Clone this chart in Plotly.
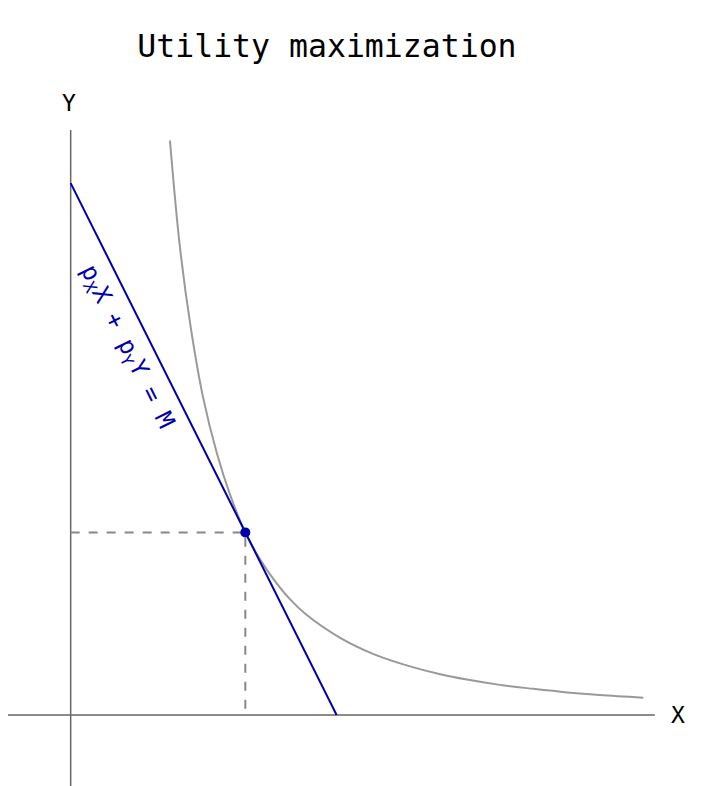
import plotly.graph_objects as go

# budget line px*X + py*Y = M  (px=2, py=1, M=6)
budget_x = [0, 3]
budget_y = [6, 0]

# optimum bundle
opt_x = [1.97]
opt_y = [2.06]

# indifference curve
curve_x = [1.12, 1.23, 1.35, 1.49, 1.65, 1.80, 1.97, 2.14, 2.29, 2.47, 2.66, 3.04, 3.41,
           3.79, 4.17, 4.47, 4.84, 5.22, 5.60, 5.97, 6.46]
curve_y = [6.48, 5.30, 4.40, 3.60, 2.95, 2.48, 2.06, 1.75, 1.53, 1.31, 1.13, 0.87, 0.69,
           0.56, 0.46, 0.40, 0.34, 0.295, 0.255, 0.225, 0.195]

# axis lines
xaxis_x = [-0.80, 6.59]
yaxis_y = [-0.90, 6.60]

mono = "DejaVu Sans Mono"
fig = go.Figure()

# axes
fig.add_trace(go.Scatter(x=xaxis_x, y=[0, 0], mode="lines",
                         line=dict(color="#666666", width=1.5), hoverinfo="skip"))
fig.add_trace(go.Scatter(x=[0, 0], y=yaxis_y, mode="lines",
                         line=dict(color="#666666", width=1.5), hoverinfo="skip"))

# dashed guides to the optimum
fig.add_trace(go.Scatter(x=[0, opt_x[0], opt_x[0]], y=[opt_y[0], opt_y[0], 0], mode="lines",
                         line=dict(color="#888888", width=2, dash="dash"), hoverinfo="skip"))

# indifference curve
fig.add_trace(go.Scatter(x=curve_x, y=curve_y, mode="lines",
                         line=dict(color="#999999", width=2, shape="spline", smoothing=1)))

# budget line
fig.add_trace(go.Scatter(x=budget_x, y=budget_y, mode="lines",
                         line=dict(color="#0000aa", width=2)))

# optimum point
fig.add_trace(go.Scatter(x=opt_x, y=opt_y, mode="markers",
                         marker=dict(color="#0000aa", size=10)))

fig.add_annotation(x=0.635, y=4.15, text="p<sub>X</sub>X + p<sub>Y</sub>Y = M",
                   showarrow=False, textangle=63.43,
                   font=dict(family=mono, size=24, color="#0000aa"))
fig.add_annotation(x=6.85, y=0, text="X", showarrow=False,
                   font=dict(family=mono, size=23, color="black"))
fig.add_annotation(x=-0.02, y=6.90, text="Y", showarrow=False,
                   font=dict(family=mono, size=23, color="black"))

fig.update_layout(
    title=dict(text="Utility maximization", x=0.443, xanchor="center", y=0.952, yanchor="middle",
               font=dict(family=mono, size=31.5, color="black")),
    width=720,
    height=786,
    margin=dict(l=0, r=0, t=0, b=0),
    paper_bgcolor="white",
    plot_bgcolor="white",
    showlegend=False,
    xaxis=dict(range=[-0.707, 7.415], visible=False),
    yaxis=dict(range=[-0.891, 7.975], visible=False),
)

fig.write_html("out.html")
